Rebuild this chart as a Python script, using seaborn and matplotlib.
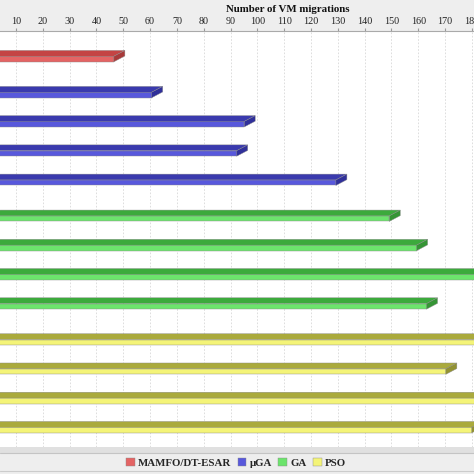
import matplotlib
matplotlib.use('Agg')
from matplotlib import pyplot as plt
from matplotlib.patches import Polygon, Rectangle
import matplotlib.colors as mcolors
import seaborn as sns
import pandas as pd

# values (bars past the right edge are clipped)
algorithms = ['MAMFO/DT-ESAR', 'μGA', 'GA', 'PSO']
mamfo = [46.5]
mu_ga = [60.6, 95.1, 92.3, 129.3]
ga = [149.2, 159.4, 195.0, 163.1]
pso = [198.0, 170.3, 200.0, 180.0]
ticks = list(range(10, 190, 10))

front = {'MAMFO/DT-ESAR': '#e46464', 'μGA': '#5858dc', 'GA': '#6ce46c', 'PSO': '#f4f478'}
top = {'MAMFO/DT-ESAR': '#c44444', 'μGA': '#3a3aae', 'GA': '#3caa3c', 'PSO': '#aaaa3c'}
side = {'MAMFO/DT-ESAR': '#a83a3a', 'μGA': '#30309a', 'GA': '#359535', 'PSO': '#929232'}

rows = []
for g, (name, vals) in enumerate(zip(algorithms, [mamfo, mu_ga, ga, pso])):
    for v in vals:
        rows.append({'algorithm': name, 'migrations': v, 'pos': len(rows) + g * 0.23})
df = pd.DataFrame(rows)

sns.set_style('white')
plt.rcParams['font.family'] = ['Liberation Serif', 'DejaVu Serif']

W = H = 474
fig = plt.figure(figsize=(W / 100, H / 100), dpi=100)
fig.patch.set_facecolor('#eeeeee')
ax = fig.add_axes([0, 1 - 447 / H, 1, (447 - 31) / H])
ax.set_facecolor('white')

sns.barplot(data=df, x='migrations', y='pos', hue='algorithm', orient='h',
            native_scale=True, dodge=False, width=0.19, palette=front, saturation=1,
            hue_order=algorithms, edgecolor='#8a8a8a', linewidth=0.3, ax=ax)

xmin, xmax = 4.03, 180.8
ymin, ymax = 13.27, -0.958
ax.set_xlim(xmin, xmax)
ax.set_ylim(ymin, ymax)


def closest(rgb):
    # which series a bar belongs to, by its face colour
    return min(front, key=lambda k: sum((a - b) ** 2 for a, b in zip(mcolors.to_rgb(front[k]), rgb[:3])))


# 3D look: top and side faces offset by a few pixels
px_x = W / (xmax - xmin)
px_y = (447 - 31) / (ymin - ymax)
ddx, ddy = 11 / px_x, 5.8 / px_y
bars = [p for p in ax.patches if isinstance(p, Rectangle) and p.get_width() > 0]
for p in bars:
    name = closest(p.get_facecolor())
    x0, y0, w, h = p.get_x(), p.get_y(), p.get_width(), p.get_height()
    ax.add_patch(Polygon([(x0, y0), (x0 + w, y0), (x0 + w + ddx, y0 - ddy), (x0 + ddx, y0 - ddy)],
                         closed=True, facecolor=top[name], edgecolor='#8a8a8a', lw=0.3))
    ax.add_patch(Polygon([(x0 + w, y0), (x0 + w, y0 + h), (x0 + w + ddx, y0 + h - ddy), (x0 + w + ddx, y0 - ddy)],
                         closed=True, facecolor=side[name], edgecolor='#8a8a8a', lw=0.3))

ax.xaxis.tick_top()
ax.set_xticks(ticks)
ax.set_xticklabels([str(t) for t in ticks], fontsize=7.3)
ax.tick_params(axis='x', length=2, pad=1.5, color='#999999', labelcolor='#222222')
ax.set_yticks([])
ax.set_xlabel('')
ax.set_ylabel('')
ax.xaxis.grid(True, linestyle=(0, (2, 2)), color='#d8d8d8', lw=0.6)
ax.set_axisbelow(True)
for s in ['left', 'right', 'bottom']:
    ax.spines[s].set_visible(False)
ax.spines['top'].set_color('#aaaaaa')
ax.spines['top'].set_linewidth(0.8)

fig.text(288 / W, 1 - 10 / H, 'Number of VM migrations', ha='center', va='center',
         fontweight='bold', fontsize=7.8, color='#111111')

# floor band and legend strip
fig.patches.append(Rectangle((0, 1 - 453 / H), 1, 6 / H, transform=fig.transFigure,
                             facecolor='#e0e0e0', edgecolor='none'))
fig.lines.append(plt.Line2D([0, 1], [1 - 453 / H] * 2, transform=fig.transFigure,
                            color='#c4c4c4', lw=0.8))
fig.lines.append(plt.Line2D([0, 1], [1 - 471 / H] * 2, transform=fig.transFigure,
                            color='#cccccc', lw=0.8))

sns.move_legend(ax, 'center', bbox_to_anchor=(236 / W, 1 - 463 / H), bbox_transform=fig.transFigure,
                ncol=4, frameon=False, title=None, handlelength=0.8, handleheight=0.8,
                handletextpad=0.3, columnspacing=0.6,
                prop={'family': 'Liberation Serif', 'weight': 'bold', 'size': 7.8})

fig.savefig('out.png', dpi=100, facecolor=fig.get_facecolor())
